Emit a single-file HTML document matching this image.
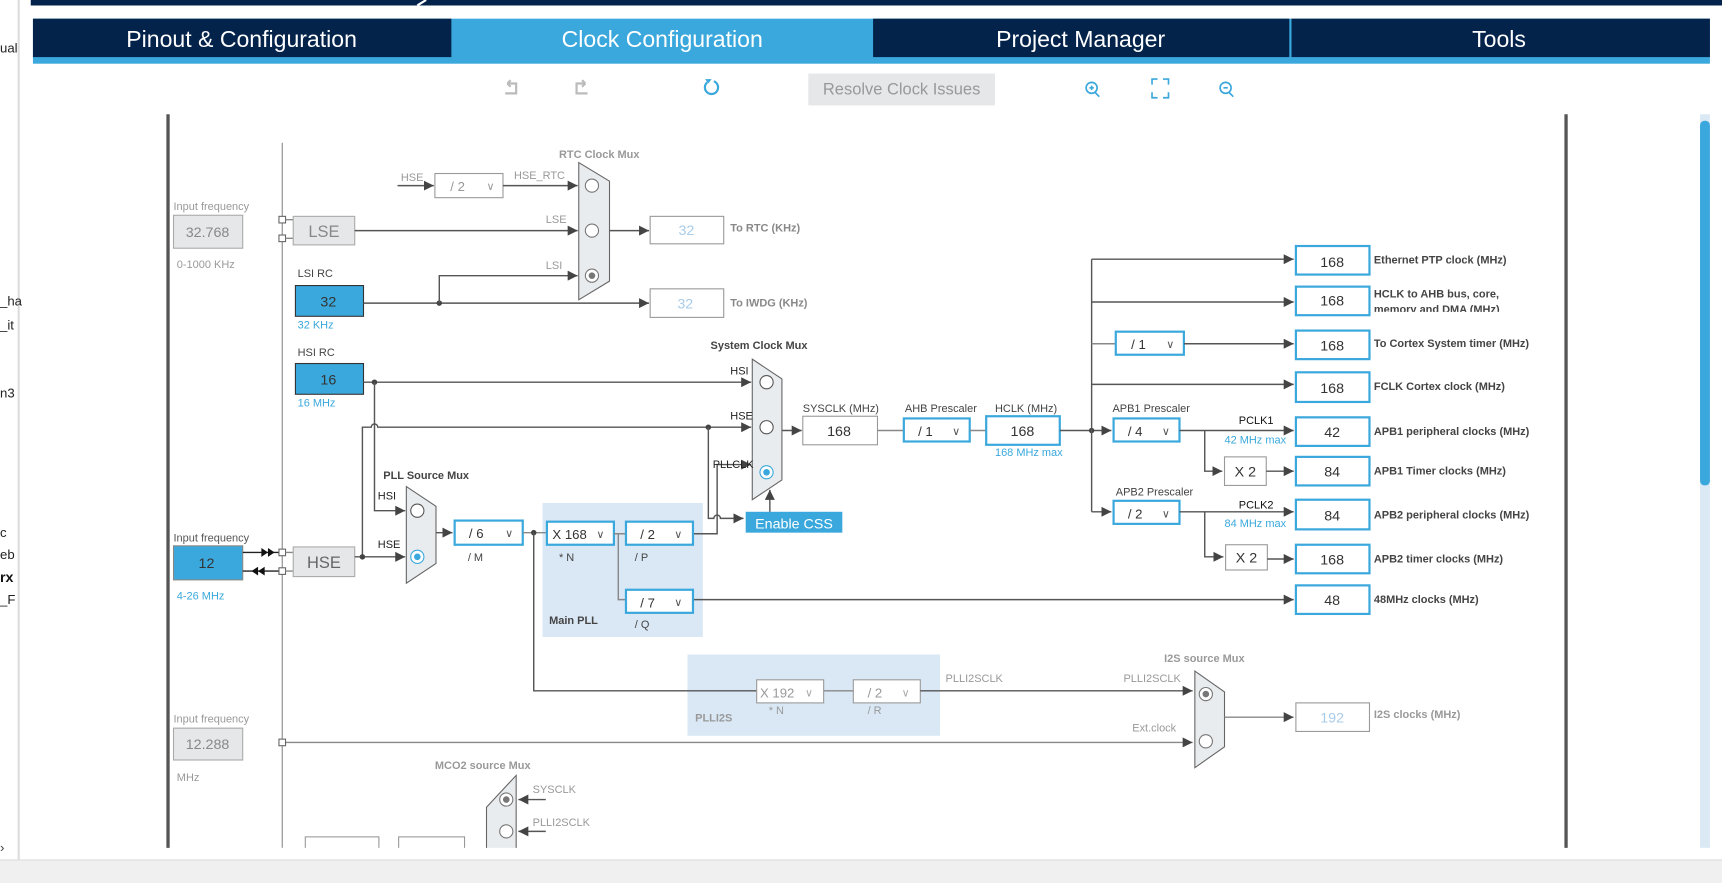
<!DOCTYPE html>
<html><head><meta charset="utf-8"><style>
html,body{margin:0;padding:0;background:#fff;width:1722px;height:883px;overflow:hidden}
svg{display:block;font-family:"Liberation Sans",sans-serif}
.l{stroke:#555;stroke-width:1.3;fill:none}
.lg{stroke:#888;stroke-width:1.3;fill:none}
.t{font-size:10px;fill:#444}
.tg{font-size:10px;fill:#999}
.tb{font-size:10px;fill:#444;font-weight:bold}
.tbl{font-size:10px;fill:#3aa8dc}
.v{font-size:13px;fill:#333;text-anchor:middle}
.bb{fill:#fff;stroke:#3aa8dc;stroke-width:2}
.gb{fill:#e5e7e9;stroke:#aaa;stroke-width:1}
.wb{fill:#fff;stroke:#999;stroke-width:1}
.mux{fill:#e9ecee;stroke:#666;stroke-width:1}
.tab{font-size:21px;fill:#fff;text-anchor:middle}
</style></head><body>
<svg width="1722" height="883" viewBox="0 0 1568 804" preserveAspectRatio="none">
<defs>
<marker id="a" viewBox="0 0 10 10" refX="10" refY="5" markerWidth="7" markerHeight="7" orient="auto-start-reverse"><path d="M0,0L10,5L0,10z" fill="#444"/></marker>
<clipPath id="c"><rect x="150" y="104" width="1300" height="668"/></clipPath>
</defs>
<!-- frame -->
<rect x="0" y="0" width="1568" height="804" fill="#fff"/>
<rect x="0" y="783" width="1568" height="21" fill="#f0f0f0"/>
<line x1="0" y1="783" x2="1568" y2="783" stroke="#ddd"/>
<line x1="17" y1="0" x2="17" y2="783" stroke="#ddd" stroke-width="2"/>
<text x="0" y="48" font-size="12" fill="#222">ual</text>
<text x="0" y="278" font-size="12" fill="#222">_ha</text>
<text x="0" y="300" font-size="12" fill="#222">_it</text>
<text x="0" y="362" font-size="12" fill="#222">n3</text>
<text x="0" y="489" font-size="12" fill="#222">c</text>
<text x="0" y="509" font-size="12" fill="#222">eb</text>
<text x="0" y="530" font-size="13" font-weight="bold" fill="#111">rx</text>
<text x="0" y="550" font-size="12" fill="#222">_F</text>
<text x="0" y="776" font-size="12" fill="#444">›</text>
<rect x="28" y="0" width="1540" height="5" fill="#03234b"/>
<path d="M380,5 L388,0" stroke="#fff" stroke-width="2"/>
<!-- tabs -->
<rect x="30" y="17" width="1527" height="41" fill="#3aa8dc"/>
<rect x="30" y="17" width="381" height="35" fill="#03234b"/>
<rect x="795" y="17" width="379" height="35" fill="#03234b"/>
<rect x="1176" y="17" width="381" height="35" fill="#03234b"/>
<text class="tab" x="220" y="43">Pinout &amp; Configuration</text>
<text class="tab" x="603" y="43">Clock Configuration</text>
<text class="tab" x="984" y="43">Project Manager</text>
<text class="tab" x="1365" y="43">Tools</text>
<!-- toolbar -->
<g stroke="#bbb" stroke-width="2" fill="none">
<path d="M462,76 h8 v9 h-10"/><path d="M462,76 l3,-3 M462,76 l3,3"/>
<path d="M533,76 h-8 v9 h10"/><path d="M533,76 l-3,-3 M533,76 l-3,3"/>
</g>
<path d="M644,75 a6,6 0 1 0 6,-1" stroke="#3aa8dc" stroke-width="2" fill="none"/>
<path d="M642,72 l3,4 l3,-4z" fill="#3aa8dc"/>
<rect x="736" y="67" width="170" height="29" fill="#e5e7e9"/>
<text x="821" y="86" font-size="15" fill="#999" text-anchor="middle">Resolve Clock Issues</text>
<g stroke="#3aa8dc" stroke-width="1.5" fill="none">
<circle cx="994" cy="80" r="5"/><path d="M997,84 l4,4 M992,80 h4 M994,78 v4"/>
<path d="M1049,77 v-5 h5 M1059,72 h5 v5 M1064,84 v5 h-5 M1054,89 h-5 v-5"/>
<circle cx="1116" cy="80" r="5"/><path d="M1119,84 l4,4 M1114,80 h4"/>
</g>
<!-- scroll -->
<rect x="1548" y="104" width="9" height="668" fill="#dbe9f5"/>
<rect x="1548" y="110" width="9" height="332" rx="4" fill="#3aa8dc"/>
<line x1="153" y1="104" x2="153" y2="772" stroke="#555" stroke-width="3"/>
<line x1="1426" y1="104" x2="1426" y2="772" stroke="#555" stroke-width="3"/>

<g clip-path="url(#c)">
<line x1="257" y1="130" x2="257" y2="772" stroke="#888" stroke-width="1"/>
<!-- PLL backgrounds -->
<rect x="494" y="458" width="146" height="122" fill="#dae8f5"/>
<rect x="626" y="596" width="230" height="74" fill="#dae8f5"/>

<!-- LSE -->
<text class="tg" x="158" y="191" font-size="9">Input frequency</text>
<rect class="gb" x="158" y="196" width="63" height="30"/><text class="v" x="189" y="216" fill="#888" style="fill:#888">32.768</text>
<text class="tg" x="161" y="244" font-size="9">0-1000 KHz</text>
<rect x="254" y="197" width="6" height="6" fill="#fff" stroke="#666"/>
<rect x="254" y="214" width="6" height="6" fill="#fff" stroke="#666"/>
<path class="lg" d="M260,200 h7 M260,217 h7"/>
<rect class="gb" x="267" y="197" width="56" height="26"/><text x="295" y="216" font-size="15" fill="#888" text-anchor="middle">LSE</text>
<path class="l" d="M323,210 H526" marker-end="url(#a)"/><text class="tg" x="497" y="203">LSE</text>
<path class="l" d="M362,169 H395" marker-end="url(#a)"/><text class="tg" x="365" y="165">HSE</text>
<rect class="wb" x="396" y="158" width="62" height="22"/><text x="410" y="174" font-size="12" fill="#999">/ 2</text><text x="443" y="173" font-size="10" fill="#999">∨</text>
<text class="tg" x="468" y="163">HSE_RTC</text>
<path class="l" d="M458,169 H526" marker-end="url(#a)"/>
<text class="tg" x="509" y="144" font-weight="bold">RTC Clock Mux</text>
<path class="mux" d="M527,148 L555,165 L555,256 L527,273 Z"/>
<circle cx="539" cy="169" r="6" fill="#fff" stroke="#777"/>
<circle cx="539" cy="210" r="6" fill="#fff" stroke="#777"/>
<circle cx="539" cy="251" r="6" fill="#fff" stroke="#777"/><circle cx="539" cy="251" r="3" fill="#777"/>
<path class="l" d="M555,210 H591" marker-end="url(#a)"/>
<rect class="wb" x="592" y="197" width="67" height="25"/><text class="v" x="625" y="214" style="fill:#a8cbe8">32</text>
<text class="tb" x="665" y="211" style="fill:#888">To RTC (KHz)</text>
<!-- LSI -->
<text class="t" x="271" y="252" font-size="9">LSI RC</text>
<rect x="269" y="260" width="62" height="28" fill="#3aa8dc" stroke="#333" stroke-width="1"/><text class="v" x="299" y="279">32</text>
<text class="tbl" x="271" y="299" font-size="9">32 KHz</text>
<path class="l" d="M331,276 H591" marker-end="url(#a)"/>
<circle cx="400" cy="276" r="2.5" fill="#444"/>
<path class="l" d="M400,276 V251 H526" marker-end="url(#a)"/><text class="tg" x="497" y="245">LSI</text>
<rect class="wb" x="592" y="263" width="67" height="26"/><text class="v" x="624" y="281" style="fill:#a8cbe8">32</text>
<text class="tb" x="665" y="279" style="fill:#888">To IWDG (KHz)</text>
<!-- HSI -->
<text class="t" x="271" y="324" font-size="9">HSI RC</text>
<rect x="269" y="331" width="62" height="28" fill="#3aa8dc" stroke="#333" stroke-width="1"/><text class="v" x="299" y="350">16</text>
<text class="tbl" x="271" y="370" font-size="9">16 MHz</text>
<path class="l" d="M331,348 H684" marker-end="url(#a)"/>
<circle cx="341" cy="348" r="2.5" fill="#444"/>
<path class="l" d="M341,348 V465 H369" marker-end="url(#a)"/>
<path class="l" d="M330,507 V389 H338 a3,3 0 0 1 6,0 H684" marker-end="url(#a)"/>
<circle cx="645" cy="389" r="2.5" fill="#444"/>
<path class="l" d="M645,389 V472 H650 a3,3 0 0 1 6,0 H677" marker-end="url(#a)"/>
<path class="l" d="M631,486 H653 V423 H684" marker-end="url(#a)"/>
<text class="tb" x="647" y="318">System Clock Mux</text>
<path class="mux" d="M685,327 L712,345 L712,437 L685,455 Z"/>
<text class="t" x="665" y="341" fill="#222" style="fill:#222">HSI</text>
<text class="t" x="665" y="382" style="fill:#222">HSE</text>
<text class="t" x="649" y="426" style="fill:#222">PLLCLK</text>
<circle cx="698" cy="348" r="6" fill="#fff" stroke="#555"/>
<circle cx="698" cy="389" r="6" fill="#fff" stroke="#555"/>
<circle cx="698" cy="430" r="6" fill="#fff" stroke="#3aa8dc"/><circle cx="698" cy="430" r="3" fill="#3aa8dc"/>
<rect x="679" y="466" width="88" height="19" fill="#3aa8dc"/><text x="723" y="481" font-size="13" fill="#fff" text-anchor="middle">Enable CSS</text>
<path class="l" d="M701,466 V446" marker-end="url(#a)"/>
<path class="l" d="M712,392 H730" marker-end="url(#a)"/>
<text class="t" x="731" y="375">SYSCLK (MHz)</text>
<rect class="wb" x="731" y="379" width="68" height="26"/><text class="v" x="764" y="397">168</text>
<path class="lg" d="M799,392 H823"/>
<text class="t" x="824" y="375">AHB Prescaler</text>
<rect class="bb" x="823" y="381" width="60" height="21"/><text x="836" y="397" font-size="12" fill="#333">/ 1</text><text x="867" y="396" font-size="10" fill="#555">∨</text>
<path class="lg" d="M883,392 H898"/>
<text class="t" x="906" y="375">HCLK (MHz)</text>
<rect class="bb" x="898" y="379" width="67" height="26"/><text class="v" x="931" y="397">168</text>
<text class="tbl" x="906" y="415" font-size="9">168 MHz max</text>
<path class="l" d="M965,392 H1012" marker-end="url(#a)"/>
<circle cx="994" cy="392" r="2.5" fill="#444"/>
<path class="l" d="M994,236 V466"/>
<path class="l" d="M994,236 H1178" marker-end="url(#a)"/>
<rect class="bb" x="1180" y="224" width="67" height="26"/><text class="v" x="1213" y="243">168</text>
<text class="tb" x="1251" y="240">Ethernet PTP clock (MHz)</text>
<path class="l" d="M994,275 H1178" marker-end="url(#a)"/>
<rect class="bb" x="1180" y="261" width="67" height="26"/><text class="v" x="1213" y="278">168</text>
<text class="tb" x="1251" y="271">HCLK to AHB bus, core,</text>
<svg x="1250" y="276" width="200" height="8" overflow="hidden"><text class="tb" x="1" y="9">memory and DMA (MHz)</text></svg>
<path class="lg" d="M994,313 H1016"/>
<rect class="bb" x="1016" y="302" width="62" height="21"/><text x="1030" y="318" font-size="12" fill="#333">/ 1</text><text x="1062" y="317" font-size="10" fill="#555">∨</text>
<path class="l" d="M1078,313 H1178" marker-end="url(#a)"/>
<rect class="bb" x="1180" y="301" width="67" height="26"/><text class="v" x="1213" y="319">168</text>
<text class="tb" x="1251" y="316">To Cortex System timer (MHz)</text>
<path class="l" d="M994,350 H1178" marker-end="url(#a)"/>
<rect class="bb" x="1180" y="339" width="67" height="27"/><text class="v" x="1213" y="358">168</text>
<text class="tb" x="1251" y="355">FCLK Cortex clock (MHz)</text>
<!-- APB1 -->
<text class="t" x="1013" y="375">APB1 Prescaler</text>
<rect class="bb" x="1014" y="381" width="60" height="21"/><text x="1027" y="397" font-size="12" fill="#333">/ 4</text><text x="1058" y="396" font-size="10" fill="#555">∨</text>
<path class="l" d="M1074,392 H1178" marker-end="url(#a)"/>
<text x="1128" y="386" font-size="10" fill="#111">PCLK1</text>
<text class="tbl" x="1115" y="404" font-size="9">42 MHz max</text>
<rect class="bb" x="1180" y="380" width="67" height="26"/><text class="v" x="1213" y="398">42</text>
<text class="tb" x="1251" y="396">APB1 peripheral clocks (MHz)</text>
<path class="l" d="M1097,392 V429 H1113" marker-end="url(#a)"/>
<rect class="wb" x="1115" y="416" width="38" height="26"/><text class="v" x="1134" y="434">X 2</text>
<path class="l" d="M1153,429 H1178" marker-end="url(#a)"/>
<rect class="bb" x="1180" y="416" width="67" height="26"/><text class="v" x="1213" y="434">84</text>
<text class="tb" x="1251" y="432">APB1 Timer clocks (MHz)</text>
<!-- APB2 -->
<path class="l" d="M994,466 H1012" marker-end="url(#a)"/>
<text class="t" x="1016" y="451">APB2 Prescaler</text>
<rect class="bb" x="1014" y="456" width="60" height="21"/><text x="1027" y="472" font-size="12" fill="#333">/ 2</text><text x="1058" y="471" font-size="10" fill="#555">∨</text>
<path class="l" d="M1074,466 H1178" marker-end="url(#a)"/>
<text x="1128" y="463" font-size="10" fill="#111">PCLK2</text>
<text class="tbl" x="1115" y="480" font-size="9">84 MHz max</text>
<rect class="bb" x="1180" y="455" width="67" height="27"/><text class="v" x="1213" y="474">84</text>
<text class="tb" x="1251" y="472">APB2 peripheral clocks (MHz)</text>
<path class="l" d="M1097,466 V507 H1114" marker-end="url(#a)"/>
<rect class="wb" x="1116" y="496" width="38" height="23"/><text class="v" x="1135" y="512">X 2</text>
<path class="l" d="M1154,509 H1178" marker-end="url(#a)"/>
<rect class="bb" x="1180" y="496" width="67" height="26"/><text class="v" x="1213" y="514">168</text>
<text class="tb" x="1251" y="512">APB2 timer clocks (MHz)</text>
<path class="l" d="M631,546 H1178" marker-end="url(#a)"/>
<rect class="bb" x="1180" y="533" width="67" height="26"/><text class="v" x="1213" y="551">48</text>
<text class="tb" x="1251" y="549">48MHz clocks (MHz)</text>
<!-- HSE input -->
<text class="tg" x="158" y="493" font-size="9" style="fill:#555">Input frequency</text>
<rect x="158" y="497" width="63" height="31" fill="#3aa8dc" stroke="#888"/><text class="v" x="188" y="517">12</text>
<text class="tbl" x="161" y="546" font-size="9">4-26 MHz</text>
<path d="M221,503 H254" stroke="#222" stroke-width="1.3"/><path d="M238,499 l6,4 l-6,4z M244,499 l6,4 l-6,4z" fill="#111"/>
<path d="M221,520 H254" stroke="#222" stroke-width="1.3"/><path d="M229,520 l6,-4 v8z M235,520 l6,-4 v8z" fill="#111"/>
<rect x="254" y="500" width="6" height="6" fill="#fff" stroke="#666"/>
<rect x="254" y="517" width="6" height="6" fill="#fff" stroke="#666"/>
<path class="lg" d="M260,503 h7 M260,520 h7"/>
<rect class="gb" x="267" y="498" width="56" height="27"/><text x="295" y="517" font-size="15" fill="#666" text-anchor="middle">HSE</text>
<path class="l" d="M323,507 H369" marker-end="url(#a)"/><circle cx="330" cy="507" r="2.5" fill="#444"/>
<text class="tb" x="349" y="436">PLL Source Mux</text>
<text class="t" x="344" y="455" style="fill:#222">HSI</text>
<text class="t" x="344" y="499" style="fill:#222">HSE</text>
<path class="mux" d="M370,443 L397,461 L397,513 L370,531 Z"/>
<circle cx="380" cy="465" r="6" fill="#fff" stroke="#555"/>
<circle cx="380" cy="507" r="6" fill="#fff" stroke="#3aa8dc"/><circle cx="380" cy="507" r="3" fill="#3aa8dc"/>
<path class="l" d="M397,485 H412" marker-end="url(#a)"/>
<rect class="bb" x="414" y="474" width="62" height="22"/><text x="427" y="490" font-size="12" fill="#333">/ 6</text><text x="460" y="489" font-size="10" fill="#555">∨</text>
<text class="t" x="426" y="511" font-size="9">/ M</text>
<path class="lg" d="M476,485 H498"/><circle cx="486" cy="485" r="2.5" fill="#444"/>
<rect class="bb" x="498" y="475" width="61" height="21"/><text x="503" y="491" font-size="12" fill="#333">X 168</text><text x="543" y="490" font-size="10" fill="#555">∨</text>
<text class="t" x="509" y="511" font-size="9">* N</text>
<path class="lg" d="M559,486 H570 M563,486 V546 H570"/>
<rect class="bb" x="570" y="475" width="61" height="21"/><text x="583" y="491" font-size="12" fill="#333">/ 2</text><text x="614" y="490" font-size="10" fill="#555">∨</text>
<text class="t" x="578" y="511" font-size="9">/ P</text>
<rect class="bb" x="570" y="537" width="61" height="21"/><text x="583" y="553" font-size="12" fill="#333">/ 7</text><text x="614" y="552" font-size="10" fill="#555">∨</text>
<text class="t" x="578" y="572" font-size="9">/ Q</text>
<text class="tb" x="500" y="568">Main PLL</text>
<!-- PLLI2S -->
<path class="l" d="M486,485 V629 H689"/>
<rect class="wb" x="689" y="619" width="61" height="21"/><text x="692" y="635" font-size="12" fill="#999">X 192</text><text x="733" y="634" font-size="10" fill="#aaa">∨</text>
<text class="tg" x="700" y="650" font-size="9">* N</text>
<path class="lg" d="M750,629 H777"/>
<rect class="wb" x="777" y="619" width="61" height="21"/><text x="790" y="635" font-size="12" fill="#999">/ 2</text><text x="821" y="634" font-size="10" fill="#aaa">∨</text>
<text class="tg" x="790" y="650" font-size="9">/ R</text>
<text class="tb" x="633" y="657" style="fill:#999">PLLI2S</text>
<text class="tg" x="861" y="621">PLLI2SCLK</text>
<path class="l" d="M838,629 H1086" marker-end="url(#a)"/>
<text class="tg" x="1023" y="621">PLLI2SCLK</text>
<text class="tb" x="1060" y="603" style="fill:#999">I2S source Mux</text>
<path class="mux" d="M1088,611 L1115,630 L1115,680 L1088,699 Z"/>
<circle cx="1098" cy="632" r="6" fill="#fff" stroke="#777"/><circle cx="1098" cy="632" r="3" fill="#777"/>
<circle cx="1098" cy="675" r="6" fill="#fff" stroke="#777"/>
<path class="lg" d="M1115,653 H1178" marker-end="url(#a)"/>
<rect class="wb" x="1180" y="640" width="67" height="26"/><text class="v" x="1213" y="658" style="fill:#a8cbe8">192</text>
<text class="tb" x="1251" y="654" style="fill:#999">I2S clocks (MHz)</text>
<text class="tg" x="1031" y="666">Ext.clock</text>
<path class="lg" d="M260,676 H1086" marker-end="url(#a)"/>
<rect x="254" y="673" width="6" height="6" fill="#fff" stroke="#666"/>
<text class="tg" x="158" y="658" font-size="9">Input frequency</text>
<rect class="gb" x="158" y="663" width="63" height="29"/><text class="v" x="189" y="682" style="fill:#888">12.288</text>
<text class="tg" x="161" y="711" font-size="9">MHz</text>
<!-- MCO2 -->
<text class="tb" x="396" y="700" style="fill:#999">MCO2 source Mux</text>
<path class="mux" d="M470,706 L470,800 L443,800 L443,735 Z"/>
<circle cx="461" cy="728" r="6" fill="#fff" stroke="#777"/><circle cx="461" cy="728" r="3" fill="#777"/>
<circle cx="461" cy="757" r="6" fill="#fff" stroke="#777"/>
<path class="l" d="M497,728 H472" marker-end="url(#a)"/>
<path class="l" d="M497,757 H472" marker-end="url(#a)"/>
<text class="tg" x="485" y="722">SYSCLK</text>
<text class="tg" x="485" y="752">PLLI2SCLK</text>
<rect class="wb" x="278" y="762" width="67" height="26"/>
<rect class="wb" x="363" y="762" width="60" height="26"/>
</g>
</svg>
</body></html>
